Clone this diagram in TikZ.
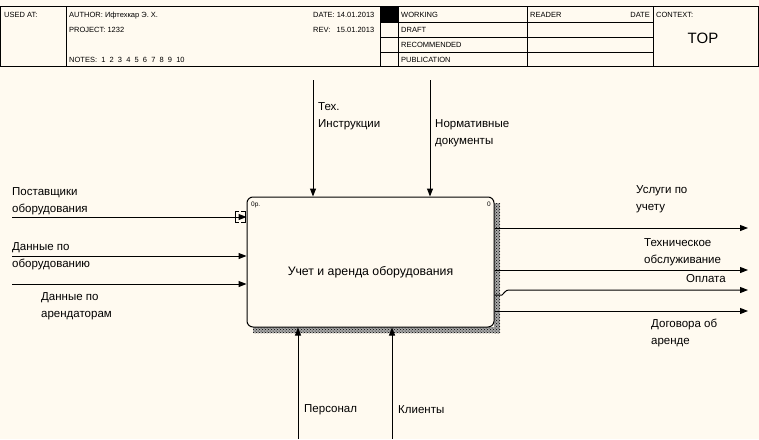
\documentclass[tikz,border=0pt]{standalone}
\usepackage{fontspec}
\setmainfont{Liberation Sans}
\usetikzlibrary{arrows.meta}
\usetikzlibrary{patterns}
\definecolor{paper}{HTML}{FFFAF0}
\tikzset{arr/.style = {-{Triangle[length=8pt,width=6pt]}, line width = 1pt}}
\tikzset{lbl/.style = {anchor = west, align = left, inner sep = 0, font = \fontsize{11.5}{17}\selectfont}}
\tikzset{hdr/.style = {anchor = base west, inner sep = 0, font = \fontsize{7.5}{9}\selectfont}}
\tikzset{funcbox/.style = {draw, line width = 1pt, rounded corners = 6, fill = paper,
    minimum width = 247, minimum height = 130, inner sep = 0}}
\tikzset{shade/.style = {preaction = {fill = black!35}, pattern = crosshatch dots, pattern color = black}}

\begin{document}
\begin{tikzpicture}[x=1pt, y=-1pt]
      \fill [paper] (0, 0) rectangle (759, 439);
      \useasboundingbox (0, 0) rectangle (759, 439);

      % header frame
      \draw [line width = 1pt] (0.5, 6) rectangle (758.5, 66);
      \draw (66, 6) -- (66, 66);
      \draw (380, 6) -- (380, 66);
      \draw (398, 6) -- (398, 66);
      \draw (527, 6) -- (527, 66);
      \draw (653, 6) -- (653, 66);
      \draw (380, 22) -- (653, 22);
      \draw (380, 37) -- (653, 37);
      \draw (380, 52) -- (653, 52);
      \fill (380, 6) rectangle (398, 22);

      \node [hdr] (used) at (4, 17) {USED AT:};
      \node [hdr] (author) at (69, 17) {AUTHOR: Ифтехкар Э. Х.};
      \node [hdr] (project) at (69, 32) {PROJECT: 1232};
      \node [hdr] (notes) at (69, 62) {NOTES: \ 1\ \ 2\ \ 3\ \ 4\ \ 5\ \ 6\ \ 7\ \ 8\ \ 9\ \ 10};
      \node [hdr] (date) at (313, 17) {DATE: 14.01.2013};
      \node [hdr] (rev) at (313, 32) {REV: \ \ 15.01.2013};
      \node [hdr] (working) at (401, 17) {WORKING};
      \node [hdr] (draft) at (401, 32) {DRAFT};
      \node [hdr] (recom) at (401, 47) {RECOMMENDED};
      \node [hdr] (publ) at (401, 62) {PUBLICATION};
      \node [hdr] (reader) at (530, 17) {READER};
      \node [hdr, anchor = base east] (rdate) at (650, 17) {DATE};
      \node [hdr] (context) at (656, 17) {CONTEXT:};
      \node [inner sep = 0, font = \fontsize{15}{17}\selectfont] (top) at (703, 38) {TOP};

      % shadow and box
      \path [shade] (494, 203) rectangle (500, 333);
      \path [shade] (253, 327) rectangle (500, 333);
      \node [funcbox] (func) at (370.5, 262) {};
      \node [inner sep = 0, font = \fontsize{12.3}{15}\selectfont] (flabel) at (370.5, 272) {Учет и аренда оборудования};
      \node [inner sep = 0, font = \fontsize{6.5}{8}\selectfont, anchor = north west] (fnum) at (251, 202) {0р.};
      \node [inner sep = 0, font = \fontsize{6.5}{8}\selectfont, anchor = north east] (fcost) at (491, 202) {0};

      % inputs
      \coordinate (in1) at (12, 217);
      \coordinate (in2) at (12, 256);
      \coordinate (in3) at (12, 284);
      \draw [arr] (in1) -- (in1 -| func.west);
      \draw [arr] (in2) -- (in2 -| func.west);
      \draw [arr] (in3) -- (in3 -| func.west);
      \draw (239, 211.5) -- (235, 211.5) -- (235, 222.5) -- (239, 222.5);
      \draw (241, 211.5) -- (245, 211.5) -- (245, 222.5) -- (241, 222.5);

      % controls
      \coordinate (ctrl1) at (313, 80);
      \coordinate (ctrl2) at (430, 80);
      \draw [arr] (ctrl1) -- (ctrl1 |- func.north);
      \draw [arr] (ctrl2) -- (ctrl2 |- func.north);

      % mechanisms
      \coordinate (mech1) at (298, 439);
      \coordinate (mech2) at (392, 439);
      \draw [arr] (mech1) -- (mech1 |- func.south);
      \draw [arr] (mech2) -- (mech2 |- func.south);

      % outputs
      \coordinate (out1) at (748, 228);
      \coordinate (out2) at (748, 270);
      \coordinate (out3) at (748, 290);
      \coordinate (out4) at (748, 311);
      \coordinate (bend) at (502, 295);
      \draw [arr] (out1 -| func.east) -- (out1);
      \draw [arr] (out2 -| func.east) -- (out2);
      \draw [arr] (bend -| func.east) -- (bend) .. controls (505, 293) and (505, 290) .. (509, 290) -- (out3);
      \draw [arr] (out4 -| func.east) -- (out4);

      % labels
      \node [lbl] (in1l) at (12, 201.5) {Поставщики\\оборудования};
      \node [lbl] (in2l) at (12, 256) {Данные по\\оборудованию};
      \node [lbl] (in3l) at (41, 306.5) {Данные по\\арендаторам};
      \node [lbl] (ctrl1l) at (318, 116.5) {Тех.\\Инструкции};
      \node [lbl] (ctrl2l) at (435, 133.5) {Нормативные\\документы};
      \node [lbl] (out1l) at (636, 199.5) {Услуги по\\учету};
      \node [lbl] (out2l) at (644, 252) {Техническое\\обслуживание};
      \node [lbl] (out3l) at (686, 279) {Оплата};
      \node [lbl] (out4l) at (651, 332.5) {Договора об\\аренде};
      \node [lbl] (mech1l) at (304, 410) {Персонал};
      \node [lbl] (mech2l) at (398, 410) {Клиенты};
\end{tikzpicture}
\end{document}
